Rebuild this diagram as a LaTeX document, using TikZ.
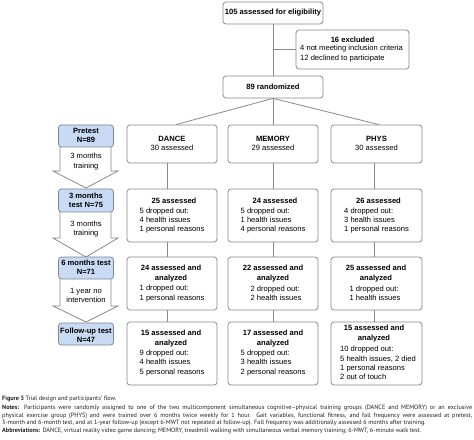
\documentclass[tikz,border=0pt]{standalone}
\usepackage{fontspec}
\setmainfont{Liberation Sans}
\newfontfamily\capfont{PT Sans}
\usetikzlibrary{calc}
\definecolor{boxline}{HTML}{8A8A8A}
\definecolor{bluefill}{HTML}{C9DAF5}
\definecolor{blueline}{HTML}{7D8797}
\definecolor{conncol}{HTML}{8A8A8A}
\definecolor{captext}{HTML}{231F20}
\newcommand\flowarrow[3]{%
  \draw[arrowsty] (60,#1) -- (60,#2) -- (53,#2) -- (86,#3) -- (118,#2) -- (111,#2) -- (111,#1) -- cycle;}
\begin{document}
\begin{tikzpicture}[x=1bp,y=-1bp,
  flowbox/.style={draw=boxline, line width=0.8bp, rounded corners=3bp, fill=white, inner sep=0},
  phasebox/.style={draw=blueline, line width=0.8bp, rounded corners=3bp, fill=bluefill, inner sep=0, minimum width=55bp},
  arrowsty/.style={draw=boxline, line width=0.8bp, fill=white, line join=miter},
  conn/.style={draw=conncol, line width=0.8bp},
  txt/.style={inner sep=0, font=\fontsize{7.6bp}{9.4bp}\selectfont},
  ttl/.style={inner sep=0, align=center, font=\fontsize{7.6bp}{9.2bp}\selectfont\bfseries},
  body/.style={txt, align=left},
  captxt/.style={inner sep=0, anchor=north west, text width=470bp, align=justify, text=captext,
    font=\capfont\fontsize{6.2bp}{7.5bp}\selectfont}
]
\useasboundingbox (0,0) rectangle (474,440);
\fill[white] (0,0) rectangle (474,440);

% ---- top part ----
\node[flowbox, minimum width=100bp, minimum height=22bp] (elig) at (273,13) {};
\node[ttl] (eligt) at (273,13) {105 assessed for eligibility};
\node[flowbox, minimum width=113bp, minimum height=39bp] (excl) at (352.5,49.5) {};
\node[ttl] (exclt) at (352.5,40) {16 excluded};
\node[body, anchor=west] (exclb) at (300,53.5) {4 not meeting inclusion criteria\\12 declined to participate};
\node[flowbox, minimum width=100bp, minimum height=22bp] (rand) at (273,87) {};
\node[ttl] (randt) at (273,87) {89 randomized};
\coordinate (exj) at (273,49.5);
\draw[conn] (elig.south) -- (rand.north);
\draw[conn] (exj) -- (excl.west);

% ---- group boxes ----
\foreach \n/\x/\w in {d/172/90, m/273/90, p/376.5/91}{
  \node[flowbox, minimum width=\w bp, minimum height=38bp] (\n1) at (\x,144) {};
  \node[flowbox, minimum width=\w bp, minimum height=53bp] (\n2) at (\x,215.5) {};
  \node[flowbox, minimum width=\w bp, minimum height=53bp] (\n3) at (\x,283.5) {};
  \node[flowbox, minimum width=\w bp, minimum height=63bp] (\n4) at (\x,353.5) {};
}
\draw[conn] (rand.south) -- ([xshift=4bp]d1.north);
\draw[conn] (rand.south) -- (m1.north);
\draw[conn] (rand.south) -- ([xshift=2.5bp]p1.north);
\foreach \a/\b in {1/2, 2/3, 3/4}{
  \draw[conn] ([xshift=-5bp]d\a.south) -- ([xshift=-5bp]d\b.north);
  \draw[conn] (m\a.south) -- (m\b.north);
  \draw[conn] ([xshift=-2.5bp]p\a.south) -- ([xshift=-2.5bp]p\b.north);
}

% row 1
\node[txt, align=center] (d1t) at (172,143.5) {\textbf{DANCE}\\30 assessed};
\node[txt, align=center] (m1t) at (273,143.5) {\textbf{MEMORY}\\29 assessed};
\node[txt, align=center] (p1t) at (376.5,143.5) {\textbf{PHYS}\\30 assessed};
% row 2
\node[ttl] (d2t) at (174,201) {25 assessed};
\node[body] (d2b) at (172,220.5) {5 dropped out:\\4 health issues\\1 personal reasons};
\node[ttl] (m2t) at (275,201) {24 assessed};
\node[body] (m2b) at (273,220.5) {5 dropped out:\\1 health issues\\4 personal reasons};
\node[ttl] (p2t) at (378.5,201) {26 assessed};
\node[body] (p2b) at (376.5,220.5) {4 dropped out:\\3 health issues\\1 personal reasons};
% row 3
\node[ttl] (d3t) at (171,273.5) {24 assessed and\\analyzed};
\node[body] (d3b) at (172,293.5) {1 dropped out:\\1 personal reasons};
\node[ttl] (m3t) at (273,273.5) {22 assessed and\\analyzed};
\node[body] (m3b) at (276,293.5) {2 dropped out:\\2 health issues};
\node[ttl] (p3t) at (376,273.5) {25 assessed and\\analyzed};
\node[body] (p3b) at (375,293.5) {1 dropped out:\\1 health issues};
% row 4
\node[ttl] (d4t) at (171,338.5) {15 assessed and\\analyzed};
\node[body] (d4b) at (172,363) {9 dropped out:\\4 health issues\\5 personal reasons};
\node[ttl] (m4t) at (273,338.5) {17 assessed and\\analyzed};
\node[body] (m4b) at (273,363) {5 dropped out:\\3 health issues\\2 personal reasons};
\node[ttl] (p4t) at (374,333.5) {15 assessed and\\analyzed};
\node[body] (p4b) at (378,363) {10 dropped out:\\5 health issues, 2 died\\1 personal reasons\\2 out of touch};

% ---- left column ----
\flowarrow{146}{171}{188}
\flowarrow{210}{238}{257}
\flowarrow{277}{306}{322}
\node[txt, align=center] (a1) at (86,161.5) {3 months\\training};
\node[txt, align=center] (a2) at (86,229) {3 months\\training};
\node[txt, align=center] (a3) at (86,295.5) {1 year no\\intervention};
\node[phasebox, minimum height=22bp] (pre) at (86,136) {};
\node[ttl] (pret) at (86,135.5) {Pretest\\N=89};
\node[phasebox, minimum height=23bp] (t3) at (86,200.5) {};
\node[ttl] (t3t) at (86,200) {3 months\\test N=75};
\node[phasebox, minimum height=22bp] (t6) at (86,268) {};
\node[ttl] (t6t) at (86,267.5) {6 months test\\N=71};
\node[phasebox, minimum height=22bp] (fu) at (86,334) {};
\node[ttl] (fut) at (86,335.5) {Follow-up test\\N=47};

% ---- caption ----
\node[captxt] (fig) at (2,395.5) {\textbf{Figure 3} Trial design and participants’ flow.};
\node[captxt] (notes) at (2,405) {\textbf{Notes:} Participants were randomly assigned to one of the two multicomponent simultaneous cognitive–physical training groups (DANCE and MEMORY) or an exclusive\linebreak physical exercise group (PHYS) and were trained over 6 months twice weekly for 1 hour. Gait variables, functional fitness, and fall frequency were assessed at pretest,\linebreak 3-month and 6-month test, and at 1-year follow-up (except 6-MWT not repeated at follow-up). Fall frequency was additionally assessed 6 months after training.};
\node[captxt] (abbr) at (2,427.5) {\textbf{Abbreviations:} DANCE, virtual reality video game dancing; MEMORY, treadmill walking with simultaneous verbal memory training; 6-MWT, 6-minute walk test.};
\end{tikzpicture}
\end{document}
